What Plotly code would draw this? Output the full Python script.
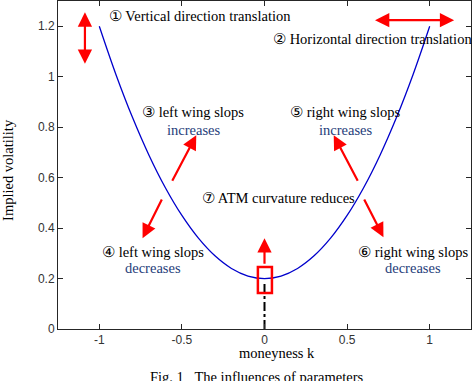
import plotly.graph_objects as go

# data
k_vals = [-1.0, -0.9, -0.8, -0.7, -0.6, -0.5, -0.4, -0.3, -0.2, -0.1, 0.0,
          0.1, 0.2, 0.3, 0.4, 0.5, 0.6, 0.7, 0.8, 0.9, 1.0]
vol_vals = [1.20, 1.01, 0.84, 0.69, 0.56, 0.45, 0.36, 0.29, 0.24, 0.21, 0.20,
            0.21, 0.24, 0.29, 0.36, 0.45, 0.56, 0.69, 0.84, 1.01, 1.20]
x_ticks = [-1, -0.5, 0, 0.5, 1]
x_tick_text = ["-1", "-0.5", "0", "0.5", "1"]
y_ticks = [0, 0.2, 0.4, 0.6, 0.8, 1.0, 1.2]
y_tick_text = ["0", "0.2", "0.4", "0.6", "0.8", "1", "1.2"]

serif = "Liberation Serif, Times New Roman, serif"
sans = "Liberation Sans, Arial, sans-serif"
RED = "#ff0000"
NAVY = "#1f3d7a"
FS = 14.5

fig = go.Figure()
fig.add_trace(go.Scatter(x=k_vals, y=vol_vals, mode="lines",
                         line=dict(color="#0000cc", width=1.3, shape="spline"),
                         hoverinfo="skip", showlegend=False))
fig.add_trace(go.Scatter(x=[0, 0], y=[0, 0.19], mode="lines",
                         line=dict(color="black", width=2, dash="dashdot"),
                         hoverinfo="skip", showlegend=False))

ann = []
def txt(x, y, s, color="black", anchor="center", size=FS):
    ann.append(dict(x=x, y=y, xref="x", yref="y", text=s, showarrow=False,
                    xanchor=anchor, yanchor="middle",
                    font=dict(family=serif, size=size, color=color)))

def arrow(x0, y0, x1, y1, both=False):
    d = dict(x=x1, y=y1, ax=x0, ay=y0, xref="x", yref="y", axref="x", ayref="y",
             text="", showarrow=True, arrowhead=2, arrowsize=1.3, arrowwidth=2.2,
             arrowcolor=RED)
    if both:
        d.update(arrowside="end+start", startarrowhead=2, startarrowsize=1.3)
    ann.append(d)

txt(-0.955, 1.24, "① Vertical direction translation", anchor="left")
txt(0.039, 1.149, "② Horizontal direction translation", anchor="left")
txt(-0.434, 0.859, "③ left wing slops")
txt(-0.431, 0.788, "increases", NAVY)
txt(0.485, 0.859, "⑤ right wing slops")
txt(0.491, 0.788, "increases", NAVY)
txt(0.087, 0.519, "⑦ ATM curvature reduces")
txt(-0.672, 0.305, "④ left wing slops")
txt(-0.672, 0.242, "decreases", NAVY)
txt(0.898, 0.305, "⑥ right wing slops")
txt(0.901, 0.242, "decreases", NAVY)

arrow(-1.087, 1.045, -1.087, 1.255, both=True)
arrow(0.66, 1.224, 1.148, 1.224, both=True)
arrow(-0.563, 0.582, -0.413, 0.768)
arrow(0.569, 0.582, 0.419, 0.768)
arrow(-0.617, 0.519, -0.738, 0.360)
arrow(0.599, 0.519, 0.720, 0.364)
arrow(0.0, 0.253, 0.0, 0.36)

ann.append(dict(x=0.53, y=-0.073, xref="paper", yref="paper", text="moneyness k",
                showarrow=False, xanchor="center", yanchor="middle",
                font=dict(family=serif, size=FS, color="black")))
ann.append(dict(x=-0.121, y=0.485, xref="paper", yref="paper", text="Implied volatility",
                showarrow=False, textangle=-90, xanchor="center", yanchor="middle",
                font=dict(family=serif, size=FS, color="black")))
ann.append(dict(x=0.218, y=-0.146, xref="paper", yref="paper",
                text="Fig. 1   The influences of parameters",
                showarrow=False, xanchor="left", yanchor="middle",
                font=dict(family=serif, size=FS, color="black")))

fig.add_shape(type="rect", x0=-0.04, x1=0.045, y0=0.143, y1=0.246,
              line=dict(color=RED, width=2.5), xref="x", yref="y")

axis_common = dict(showgrid=False, zeroline=False, showline=True, linecolor="#262626",
                   linewidth=1, mirror="ticks", ticks="inside", ticklen=5,
                   tickcolor="#262626", tickwidth=1,
                   tickfont=dict(family=sans, size=12, color="#333333"))

fig.update_layout(
    width=474, height=381,
    margin=dict(l=58, r=3, t=1, b=52),
    paper_bgcolor="white", plot_bgcolor="white",
    annotations=ann,
    xaxis=dict(range=[-1.25, 1.25], tickvals=x_ticks, ticktext=x_tick_text, **axis_common),
    yaxis=dict(range=[0, 1.3], tickvals=y_ticks, ticktext=y_tick_text, **axis_common),
)

fig.write_html("out.html", config={"displayModeBar": False},
               post_script="document.body.style.margin='0';document.body.style.overflow='hidden';")
